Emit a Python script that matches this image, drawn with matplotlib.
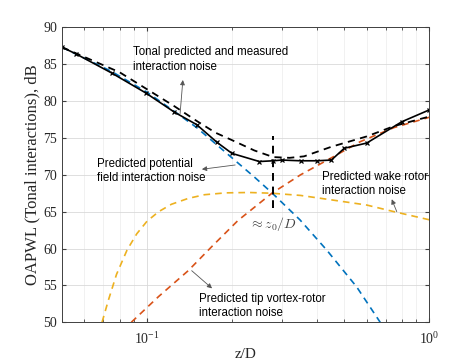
import matplotlib
matplotlib.use("Agg")
import matplotlib.pyplot as plt
from matplotlib.ticker import LogLocator, NullFormatter

plt.rcParams['font.family'] = ['Liberation Serif', 'DejaVu Serif']
plt.rcParams['mathtext.fontset'] = 'stix'

# measured tonal interaction noise
meas_x = [0.05, 0.056, 0.075, 0.099, 0.125, 0.150, 0.177, 0.20, 0.25, 0.28,
          0.30, 0.35, 0.40, 0.45, 0.50, 0.60, 0.80, 1.0]
meas_y = [87.3, 86.4, 83.8, 81.1, 78.5, 76.8, 74.4, 72.9, 71.8, 71.9,
          72.0, 71.9, 71.9, 72.0, 73.6, 74.3, 77.2, 78.8]

# predicted total tonal noise
tot_x = [0.05, 0.08, 0.1, 0.125, 0.15, 0.175, 0.2, 0.24, 0.28, 0.32, 0.36,
         0.45, 0.6, 0.75, 1.0]
tot_y = [87.3, 83.9, 81.6, 79.3, 77.3, 75.7, 74.7, 73.3, 72.4, 72.3, 72.5,
         73.8, 75.2, 76.6, 77.9]

# potential field interaction
pot_x = [0.05, 0.075, 0.1, 0.125, 0.15, 0.2, 0.24, 0.278, 0.348, 0.433, 0.553, 0.67]
pot_y = [87.3, 84.0, 81.2, 78.6, 76.4, 72.3, 69.7, 67.5, 63.9, 59.8, 54.8, 50.0]

# wake rotor interaction
wake_x = [0.088, 0.11, 0.14, 0.17, 0.21, 0.277, 0.35, 0.45, 0.57, 0.75, 1.0]
wake_y = [50.0, 53.5, 57.0, 60.3, 63.8, 67.5, 70.0, 72.3, 74.5, 76.4, 77.8]

# tip vortex-rotor interaction
tip_x = [0.0693, 0.073, 0.078, 0.085, 0.092, 0.1, 0.11, 0.122, 0.14, 0.16,
         0.19, 0.23, 0.277, 0.35, 0.45, 0.6, 0.75, 1.0]
tip_y = [50.0, 53.0, 56.5, 59.8, 62.0, 63.7, 65.0, 66.0, 66.8, 67.3,
         67.55, 67.6, 67.5, 67.2, 66.6, 65.9, 65.0, 63.9]

z0 = 0.279
z0_span = [65.5, 75.2]

fig = plt.figure(figsize=(4.74, 3.62), dpi=100)
ax = fig.add_axes([0.1308, 0.1097, 0.7749, 0.8149])

ax.plot(pot_x, pot_y, '--', color='#0072BD', lw=1.2, dashes=(4, 3))
ax.plot(wake_x, wake_y, '--', color='#D95319', lw=1.2, dashes=(4, 3))
ax.plot(tip_x, tip_y, '--', color='#EDB120', lw=1.2, dashes=(4, 3))
ax.plot(tot_x, tot_y, '--', color='black', lw=1.3, dashes=(4, 3))
ax.plot(meas_x, meas_y, '-', color='black', lw=1.2, marker='x', ms=3.5, mew=0.9)
ax.plot([z0, z0], z0_span, '--', color='black', lw=1.4, dashes=(4, 3))

ax.set_xscale('log')
ax.set_xlim(0.05, 1)
ax.set_ylim(50, 90)
ax.set_yticks([50, 55, 60, 65, 70, 75, 80, 85, 90])
ax.xaxis.set_minor_locator(LogLocator(base=10, subs=range(2, 10)))
ax.xaxis.set_minor_formatter(NullFormatter())

ax.grid(True, which='major', color='#d9d9d9', lw=0.6)
ax.grid(True, which='minor', axis='x', color='#ebebeb', lw=0.5)
ax.set_axisbelow(True)
ax.tick_params(which='both', direction='in', top=True, right=True,
               colors='#404040', labelcolor='#262626', labelsize=10)
ax.tick_params(which='major', length=3)
ax.tick_params(which='minor', length=2)
ax.tick_params(axis='x', which='major', pad=6)
for s in ax.spines.values():
    s.set_color('#404040')
    s.set_linewidth(0.7)

ax.set_xlabel('z/D', fontsize=11, color='#262626', labelpad=1)
ax.set_ylabel('OAPWL (Tonal interactions), dB', fontsize=12, color='#262626',
              labelpad=2)

sans = ['Liberation Sans', 'DejaVu Sans']
fs = 8.3
ax.text(0.0894, 85.65, 'Tonal predicted and measured\ninteraction noise',
        family=sans, fontsize=fs, ha='left', va='center', linespacing=1.25)
ax.text(0.0666, 70.56, 'Predicted potential\nfield interaction noise',
        family=sans, fontsize=fs, ha='left', va='center', linespacing=1.25)
ax.text(0.416, 68.8, 'Predicted wake rotor\ninteraction noise',
        family=sans, fontsize=fs, ha='left', va='center', linespacing=1.25)
ax.text(0.1523, 52.18, 'Predicted tip vortex-rotor\ninteraction noise',
        family=sans, fontsize=fs, ha='left', va='center', linespacing=1.25)
ax.text(z0, 63.3, r'$\approx z_0/D$', fontsize=10, ha='center', va='center',
        color='#404040', math_fontfamily='cm')

arrow = dict(arrowstyle='-|>', color='#555555', lw=0.6,
             mutation_scale=7, shrinkA=0, shrinkB=0)
ax.annotate('', xy=(0.134, 82.85), xytext=(0.131, 78.3), arrowprops=arrow)
ax.annotate('', xy=(0.1565, 70.75), xytext=(0.2053, 71.33), arrowprops=arrow)
ax.annotate('', xy=(0.736, 66.68), xytext=(0.767, 65.0), arrowprops=arrow)
ax.annotate('', xy=(0.17, 54.6), xytext=(0.144, 57.0), arrowprops=arrow)

fig.savefig('out.png', dpi=100)
